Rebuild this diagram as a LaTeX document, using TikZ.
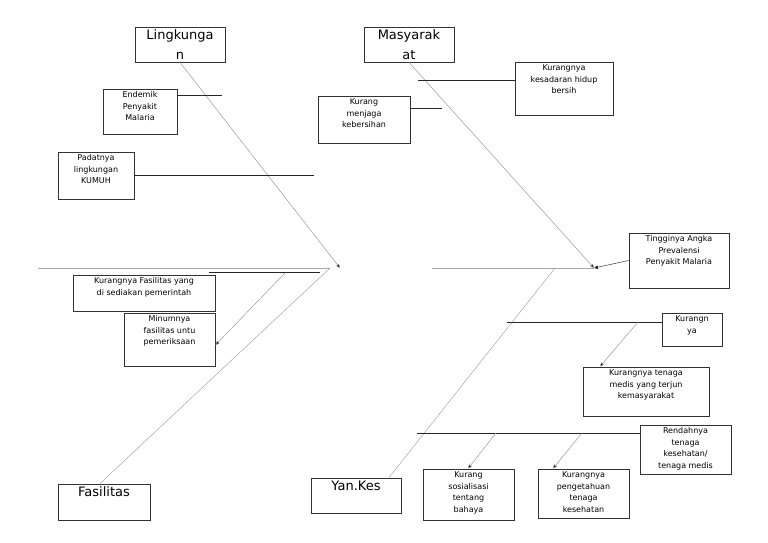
\documentclass[tikz,border=0pt]{standalone}
\usepackage{fontspec}
\setmainfont{DejaVu Sans}
\usetikzlibrary{fit,arrows.meta}
\tikzset{
 bone/.style={draw=gray!70, line width=0.5pt},
 branch/.style={draw=black!85, line width=1pt},
 sub/.style={draw=gray!80, line width=0.5pt, -{Triangle[length=4pt,width=3.5pt,fill=black]}},
 boxline/.style={draw=black!80, line width=0.9pt, inner sep=0pt},
 small/.style={font=\fontsize{8}{11.5}\selectfont},
 big/.style={font=\fontsize{13}{20}\selectfont},
}
\newcommand\bx[7]{%
 \coordinate (#1-nw) at (#2,#3); \coordinate (#1-se) at (#4,#5);
 \node[boxline, fit=(#1-nw)(#1-se), draw] (#1) {};
 \begin{scope}\clip (#2,#3) rectangle (#4,#5);
 \node[anchor=north, align=center, #7, inner sep=0pt, yshift=-3pt] (#1-t) at (#1.north) {#6};
 \end{scope}}
\begin{document}
\begin{tikzpicture}[x=1pt,y=-1pt]
\useasboundingbox (0,0) rectangle (768,543);
\bx{ling}{135}{27}{225}{62}{Lingkunga\\n}{big}
\bx{masy}{364}{27}{454}{62}{Masyarak\\at}{big}
\bx{kes}{515}{62}{613}{115}{Kurangnya\\kesadaran hidup\\bersih}{small}
\bx{end}{103}{89}{177}{134}{Endemik\\Penyakit\\Malaria}{small}
\bx{jaga}{318}{96}{410}{143}{Kurang\\menjaga\\kebersihan}{small}
\bx{pad}{58}{152}{134}{199}{Padatnya\\lingkungan\\KUMUH}{small}
\bx{ting}{629}{233}{729}{288}{Tingginya Angka\\Prevalensi\\Penyakit Malaria}{small}
\bx{kfas}{73}{275}{215}{311}{Kurangnya Fasilitas yang\\di sediakan pemerintah}{small}
\bx{minum}{124}{313}{215}{366}{Minumnya\\fasilitas untu\\pemeriksaan}{small}
\bx{fas}{58}{484}{150}{520}{Fasilitas}{big}
\bx{yan}{311}{478}{401}{513}{Yan.Kes}{big}
\bx{kur}{662}{313}{722}{346}{Kurangn\\ya}{small}
\bx{med}{583}{367}{709}{416}{Kurangnya tenaga\\medis yang terjun\\kemasyarakat}{small}
\bx{ren}{640}{425}{731}{474}{Rendahnya\\tenaga\\kesehatan/\\tenaga medis}{small}
\bx{sos}{423}{469}{514}{520}{Kurang\\sosialisasi\\tentang\\bahaya}{small}
\bx{pen}{538}{469}{629}{518}{Kurangnya\\pengetahuan\\tenaga\\kesehatan}{small}
% spine
\coordinate (L0) at (38,268); \coordinate (L1) at (330,268);
\coordinate (hL) at (340,268); \coordinate (hR) at (594,268);
\coordinate (R0) at (432,268);
\draw[bone] (L0) -- (L1);
\draw[bone] (R0) -- (hR);
\draw[sub, draw=black!80] (ting.west) -- (hR);
% bones
\draw[sub] (ling.south) ++(0,0) -- (hL);
\draw[sub] (masy.south) -- (hR);
\draw[bone] (fas.north) ++(-4,0) -- (330,268);
\draw[bone] (yan.north) ++(33,0) -- (555,268);
% branches
\draw[branch] (end.east |- 0,95) -- (222,95);
\draw[branch] (kes.west |- 0,80) -- (418,80);
\draw[branch] (jaga.east |- 0,108) -- (442,108);
\draw[branch] (pad.east |- 0,175) -- (314,175);
\draw[branch] (209,272) -- (320,272);
\draw[branch] (kur.west |- 0,322) -- (507,322);
\draw[branch] (ren.west |- 0,433) -- (417,433);
% sub arrows
\draw[sub] (285,273) -- (minum.east |- 0,345);
\draw[sub] (638,322) -- (med.north -| 600,0);
\draw[sub] (496,433) -- (sos.north -| 468,0);
\draw[sub] (582,433) -- (pen.north -| 553,0);
\end{tikzpicture}
\end{document}
